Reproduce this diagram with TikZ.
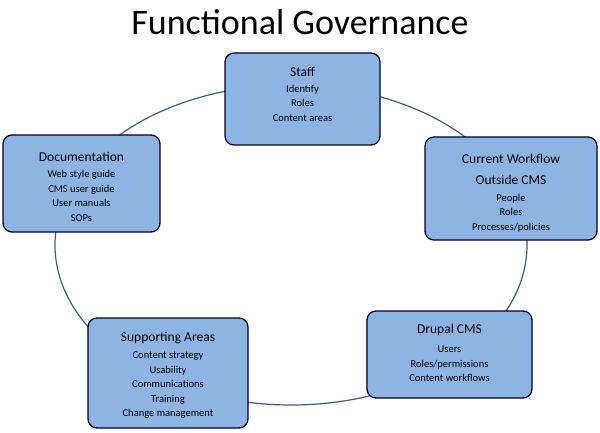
\documentclass[tikz,border=0pt]{standalone}
\usepackage{fontspec}
\setmainfont{Carlito}
\begin{document}
\begin{tikzpicture}[x=1pt,y=-1pt,
 box/.style={draw=black!85!blue,line width=1.3pt,fill={rgb,255:red,141;green,180;blue,226},rounded corners=9pt,align=center,inner sep=0pt},
 hd/.style={font=\fontsize{13.5}{15}\selectfont},
 it/.style={font=\fontsize{10.5}{14.5}\selectfont}]
\useasboundingbox (0,0) rectangle (600,433);
\node (title) at (300,22) {\fontsize{36}{40}\selectfont Functional Governance};
\draw[draw={rgb,255:red,60;green,90;blue,140},line width=1.2pt] (291,245) ellipse [x radius=236pt,y radius=160pt];
\node[box,minimum width=155pt,minimum height=92pt] (staff) at (302.5,99) {};
\node[hd] (s1) at (302.5,72) {Staff};
\node[it,align=center] (s2) at (302.5,103) {Identify\\Roles\\Content areas};
\node[box,minimum width=157pt,minimum height=97pt] (doc) at (81.5,183.5) {};
\node[hd] (d1) at (81.5,157) {Documentation};
\node[it,align=center] (d2) at (81.5,196) {Web style guide\\CMS user guide\\User manuals\\SOPs};
\node[box,minimum width=172pt,minimum height=103pt] (cw) at (511,188.5) {};
\node[hd,align=center,font=\fontsize{13.5}{21}\selectfont] (c1) at (511,169) {Current Workflow\\Outside CMS};
\node[it,align=center] (c2) at (511,213) {People\\Roles\\Processes/policies};
\node[box,minimum width=165pt,minimum height=87pt] (dr) at (449.5,354.5) {};
\node[hd] (r1) at (449.5,330) {Drupal CMS};
\node[it,align=center] (r2) at (449.5,364) {Users\\Roles/permissions\\Content workflows};
\node[box,minimum width=160pt,minimum height=110pt] (sa) at (168,373) {};
\node[hd] (a1) at (168,338) {Supporting Areas};
\node[it,align=center] (a2) at (168,385) {Content strategy\\Usability\\Communications\\Training\\Change management};
\end{tikzpicture}
\end{document}
